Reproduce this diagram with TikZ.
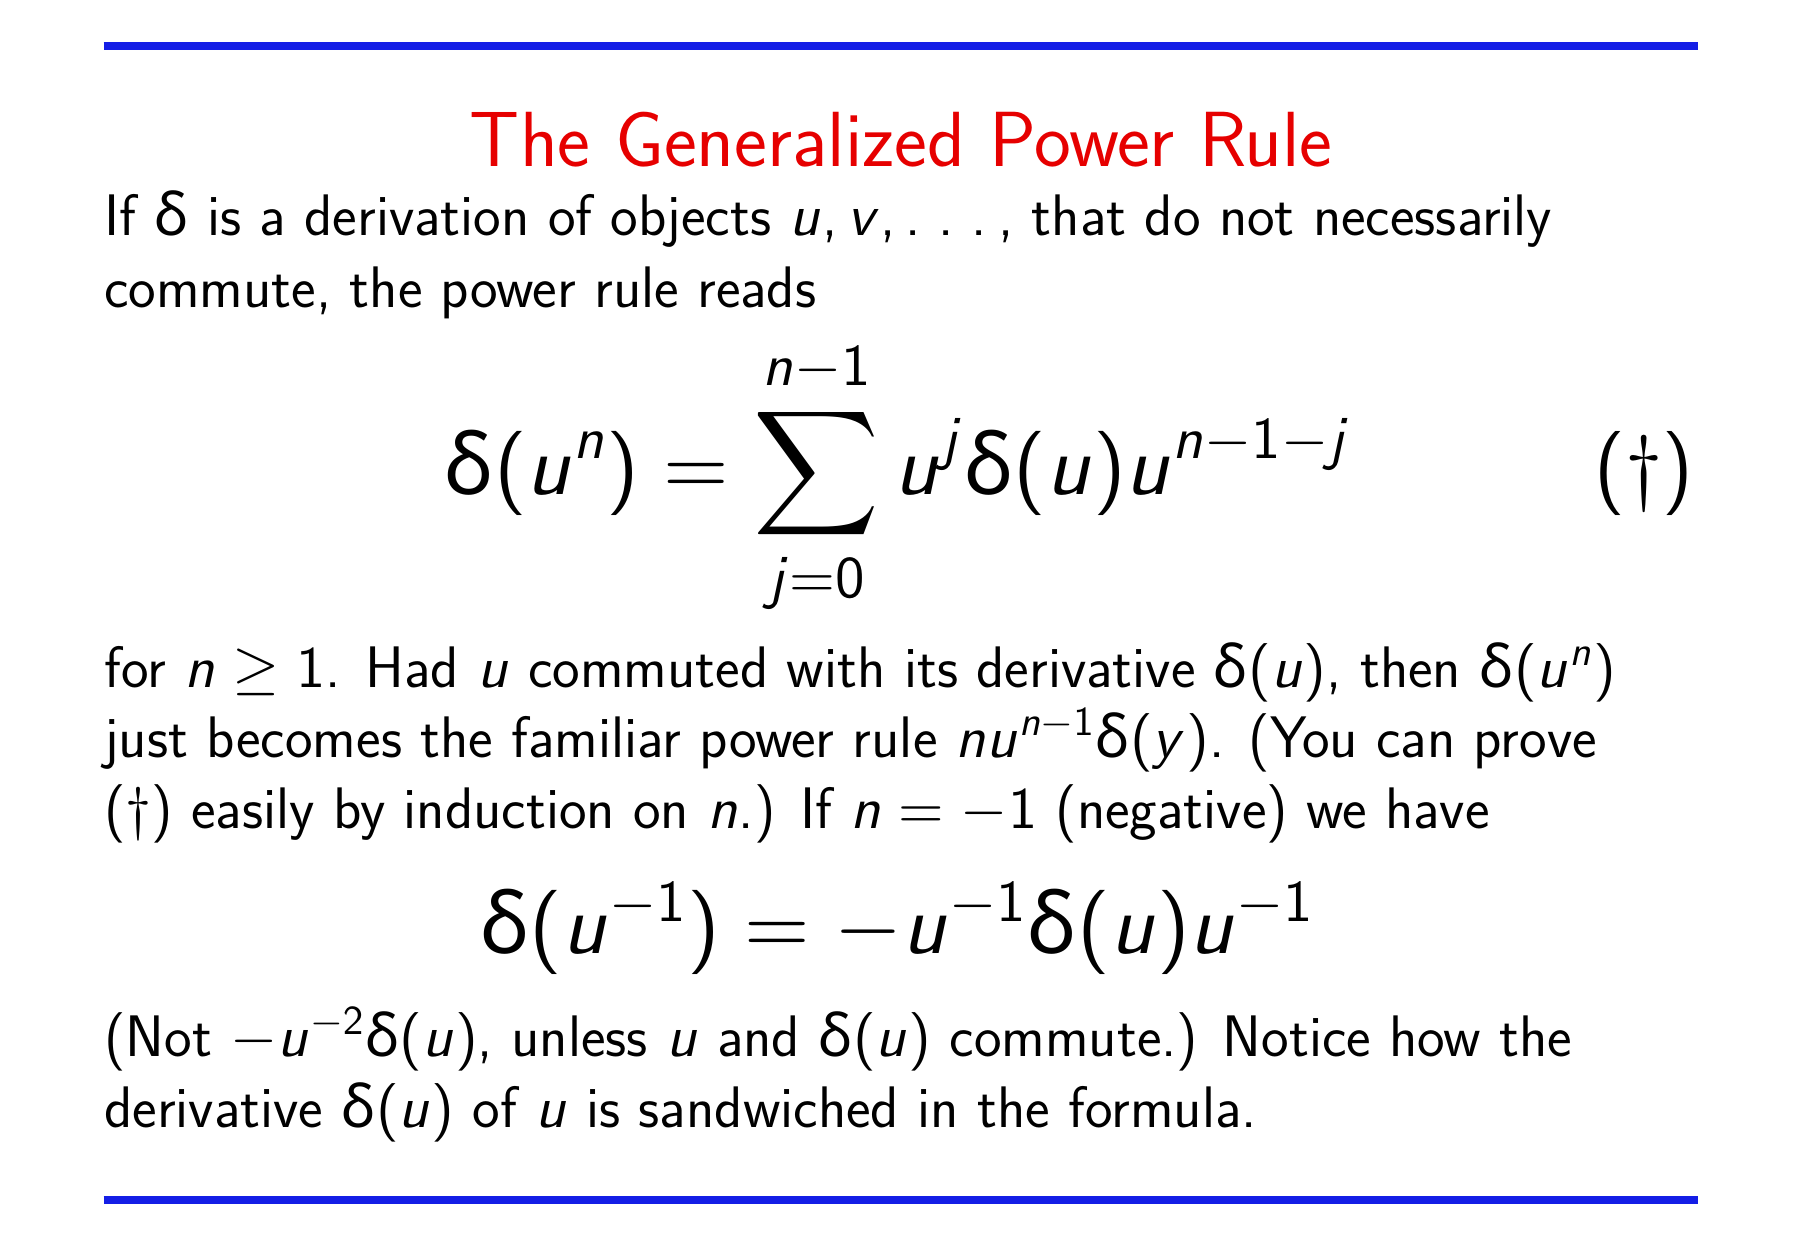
\documentclass[tikz,border=0pt]{standalone}
\usepackage{amsmath}
\usepackage[no-math]{fontspec}
\DeclareFontFamily{OT1}{cmss}{}
\DeclareFontShape{OT1}{cmss}{m}{n}{<-> cmss10}{}
\DeclareFontShape{OT1}{cmss}{m}{sl}{<-> cmssi10}{}
\SetSymbolFont{operators}{normal}{OT1}{cmss}{m}{n}
\SetSymbolFont{letters}{normal}{OT1}{cmss}{m}{sl}
\newfontfamily\gk{Noto Sans}
\newcommand\dl{\mbox{\gk δ}}
\definecolor{barblue}{RGB}{20,30,230}
\definecolor{titlered}{RGB}{230,0,0}
\tikzset{ln/.style={anchor=base west,inner sep=0pt,font=\fontsize{16.7}{20}\selectfont\sffamily},
 disp/.style={anchor=base,inner sep=0pt,font=\fontsize{24}{28}\selectfont\sffamily},
 bar/.style={barblue,line width=0.08cm}}
\begin{document}
\begin{tikzpicture}[x=1cm,y=1cm]
\useasboundingbox (0,0) rectangle (18,12.468);
\def\Y#1{12.468-#1*0.011538}
\def\X#1{#1*0.011538}
\coordinate (b1l) at ({\X{90}},{\Y{40}});
\coordinate (b1r) at ({\X{1475}},{\Y{40}});
\coordinate (b2l) at ({\X{90}},{\Y{1043}});
\coordinate (b2r) at ({\X{1475}},{\Y{1043}});
\draw[bar] (b1l) -- (b1r);
\draw[bar] (b2l) -- (b2r);
\node[anchor=base,inner sep=0pt,text=titlered,font=\fontsize{22.3}{27}\selectfont\sffamily] (title) at ({\X{783}},{\Y{145}}) {The Generalized Power Rule};
\node[ln] (l1) at ({\X{90}},{\Y{205}}) {If \dl\ is a derivation of objects $u$,\,$v$,\,.\kern0.3em.\kern0.3em.\kern0.2em, that do not necessarily};
\node[ln] (l2) at ({\X{90}},{\Y{267}}) {commute, the power rule reads};
\node[disp] (eq1) at ({\X{780}},{\Y{430}}) {$\displaystyle \dl(u^n)=\sum_{j=0}^{n-1}u^j\dl(u)u^{n-1-j}$};
\node[anchor=base east,inner sep=0pt,font=\fontsize{24}{28}\selectfont\sffamily] (dag) at ({\X{1472}},{\Y{430}}) {(\textdagger)};
\node[ln] (l3) at ({\X{90}},{\Y{597}}) {for $n\geq1$. Had $u$ commuted with its derivative \dl$(u)$, then \dl$(u^n)$};
\node[ln] (l4) at ({\X{90}},{\Y{658}}) {just becomes the familiar power rule $nu^{n-1}$\dl$(y)$. (You can prove};
\node[ln] (l5) at ({\X{90}},{\Y{720}}) {(\textdagger) easily by induction on $n$.) If $n=-1$ (negative) we have};
\node[disp] (eq2) at ({\X{780}},{\Y{828}}) {$\dl(u^{-1})=-u^{-1}\dl(u)u^{-1}$};
\node[ln] (l6) at ({\X{90}},{\Y{918}}) {(Not $-u^{-2}$\dl$(u)$, unless $u$ and \dl$(u)$ commute.) Notice how the};
\node[ln] (l7) at ({\X{90}},{\Y{980}}) {derivative \dl$(u)$ of $u$ is sandwiched in the formula.};
\end{tikzpicture}
\end{document}
